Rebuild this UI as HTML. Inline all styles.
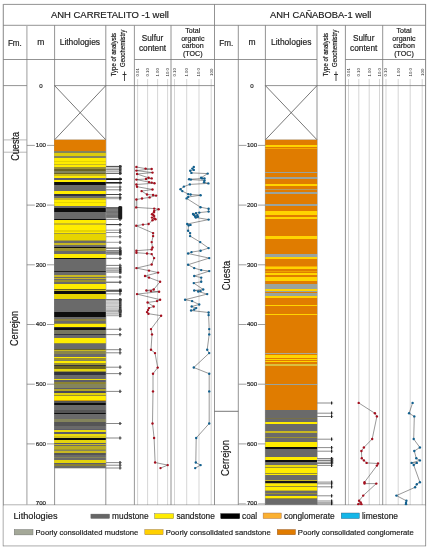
<!DOCTYPE html>
<html lang="en"><head><meta charset="utf-8"><title>Well logs</title>
<style>html,body{margin:0;padding:0;background:#fff}body{width:429px;height:550px;overflow:hidden}svg{display:block}text{font-family:"Liberation Sans",sans-serif;fill:#1a1a1a;stroke:#1a1a1a;stroke-width:0.18px}.ns{stroke:none;fill:#2a2a2a}</style>
</head><body>
<svg width="429" height="550" viewBox="0 0 429 550">
<rect width="429" height="550" fill="#fff"/>
<defs><linearGradient id="g1" x1="0" y1="0" x2="0" y2="1"><stop offset="0.00000" stop-color="#e07b00"/><stop offset="0.03440" stop-color="#e07b00"/><stop offset="0.03440" stop-color="#84845c"/><stop offset="0.04079" stop-color="#84845c"/><stop offset="0.04079" stop-color="#dccc10"/><stop offset="0.04901" stop-color="#dccc10"/><stop offset="0.04901" stop-color="#84845c"/><stop offset="0.05540" stop-color="#84845c"/><stop offset="0.05540" stop-color="#ffec00"/><stop offset="0.06514" stop-color="#ffec00"/><stop offset="0.06514" stop-color="#e6d400"/><stop offset="0.06880" stop-color="#e6d400"/><stop offset="0.06880" stop-color="#ffec00"/><stop offset="0.07458" stop-color="#ffec00"/><stop offset="0.07458" stop-color="#c8b820"/><stop offset="0.07732" stop-color="#c8b820"/><stop offset="0.07732" stop-color="#ffec00"/><stop offset="0.08432" stop-color="#ffec00"/><stop offset="0.08432" stop-color="#9a9030"/><stop offset="0.08889" stop-color="#9a9030"/><stop offset="0.08889" stop-color="#6b6420"/><stop offset="0.09376" stop-color="#6b6420"/><stop offset="0.09376" stop-color="#84845c"/><stop offset="0.10046" stop-color="#84845c"/><stop offset="0.10046" stop-color="#6b6420"/><stop offset="0.10411" stop-color="#6b6420"/><stop offset="0.10411" stop-color="#c8b820"/><stop offset="0.11020" stop-color="#c8b820"/><stop offset="0.11020" stop-color="#ffec00"/><stop offset="0.11568" stop-color="#ffec00"/><stop offset="0.11568" stop-color="#5c5c6a"/><stop offset="0.12268" stop-color="#5c5c6a"/><stop offset="0.12268" stop-color="#ffec00"/><stop offset="0.12938" stop-color="#ffec00"/><stop offset="0.12938" stop-color="#0a0a0a"/><stop offset="0.13668" stop-color="#0a0a0a"/><stop offset="0.13668" stop-color="#6a6a6a"/><stop offset="0.15464" stop-color="#6a6a6a"/><stop offset="0.15464" stop-color="#ffec00"/><stop offset="0.16530" stop-color="#ffec00"/><stop offset="0.16530" stop-color="#30303a"/><stop offset="0.17047" stop-color="#30303a"/><stop offset="0.17047" stop-color="#6a6a6a"/><stop offset="0.17626" stop-color="#6a6a6a"/><stop offset="0.17626" stop-color="#c8b820"/><stop offset="0.18204" stop-color="#c8b820"/><stop offset="0.18204" stop-color="#ffec00"/><stop offset="0.18904" stop-color="#ffec00"/><stop offset="0.18904" stop-color="#e6d400"/><stop offset="0.19178" stop-color="#e6d400"/><stop offset="0.19178" stop-color="#ffec00"/><stop offset="0.20061" stop-color="#ffec00"/><stop offset="0.20061" stop-color="#5c5c6a"/><stop offset="0.20304" stop-color="#5c5c6a"/><stop offset="0.20304" stop-color="#6a6a6a"/><stop offset="0.20913" stop-color="#6a6a6a"/><stop offset="0.20913" stop-color="#0a0a0a"/><stop offset="0.21979" stop-color="#0a0a0a"/><stop offset="0.21979" stop-color="#6a6a6a"/><stop offset="0.23988" stop-color="#6a6a6a"/><stop offset="0.23988" stop-color="#0a0a0a"/><stop offset="0.24444" stop-color="#0a0a0a"/><stop offset="0.24444" stop-color="#ffec00"/><stop offset="0.25419" stop-color="#ffec00"/><stop offset="0.25419" stop-color="#c8b820"/><stop offset="0.25784" stop-color="#c8b820"/><stop offset="0.25784" stop-color="#ffec00"/><stop offset="0.27519" stop-color="#ffec00"/><stop offset="0.27519" stop-color="#e6d400"/><stop offset="0.27915" stop-color="#e6d400"/><stop offset="0.27915" stop-color="#ffec00"/><stop offset="0.28250" stop-color="#ffec00"/><stop offset="0.28250" stop-color="#a09a40"/><stop offset="0.28828" stop-color="#a09a40"/><stop offset="0.28828" stop-color="#e6d400"/><stop offset="0.30502" stop-color="#e6d400"/><stop offset="0.30502" stop-color="#b0a428"/><stop offset="0.30898" stop-color="#b0a428"/><stop offset="0.30898" stop-color="#6a6a6a"/><stop offset="0.31355" stop-color="#6a6a6a"/><stop offset="0.31355" stop-color="#c8b820"/><stop offset="0.31933" stop-color="#c8b820"/><stop offset="0.31933" stop-color="#6a6a6a"/><stop offset="0.32511" stop-color="#6a6a6a"/><stop offset="0.32511" stop-color="#0a0a0a"/><stop offset="0.33059" stop-color="#0a0a0a"/><stop offset="0.33059" stop-color="#9a9030"/><stop offset="0.33790" stop-color="#9a9030"/><stop offset="0.33790" stop-color="#6a6a6a"/><stop offset="0.34764" stop-color="#6a6a6a"/><stop offset="0.34764" stop-color="#ffec00"/><stop offset="0.35951" stop-color="#ffec00"/><stop offset="0.35951" stop-color="#0a0a0a"/><stop offset="0.36256" stop-color="#0a0a0a"/><stop offset="0.36256" stop-color="#6a6a6a"/><stop offset="0.39909" stop-color="#6a6a6a"/><stop offset="0.39909" stop-color="#222"/><stop offset="0.40304" stop-color="#222"/><stop offset="0.40304" stop-color="#6a6a6a"/><stop offset="0.41065" stop-color="#6a6a6a"/><stop offset="0.41065" stop-color="#c8b820"/><stop offset="0.41644" stop-color="#c8b820"/><stop offset="0.41644" stop-color="#6a6a6a"/><stop offset="0.42009" stop-color="#6a6a6a"/><stop offset="0.42009" stop-color="#c8b820"/><stop offset="0.42496" stop-color="#c8b820"/><stop offset="0.42496" stop-color="#6a6a6a"/><stop offset="0.42740" stop-color="#6a6a6a"/><stop offset="0.42740" stop-color="#9a9030"/><stop offset="0.43349" stop-color="#9a9030"/><stop offset="0.43349" stop-color="#6a6a6a"/><stop offset="0.44018" stop-color="#6a6a6a"/><stop offset="0.44018" stop-color="#ffec00"/><stop offset="0.45327" stop-color="#ffec00"/><stop offset="0.45327" stop-color="#6b6420"/><stop offset="0.45662" stop-color="#6b6420"/><stop offset="0.45662" stop-color="#c8b820"/><stop offset="0.45936" stop-color="#c8b820"/><stop offset="0.45936" stop-color="#333"/><stop offset="0.46149" stop-color="#333"/><stop offset="0.46149" stop-color="#0a0a0a"/><stop offset="0.47002" stop-color="#0a0a0a"/><stop offset="0.47002" stop-color="#e6d400"/><stop offset="0.48524" stop-color="#e6d400"/><stop offset="0.48524" stop-color="#5c5c6a"/><stop offset="0.48767" stop-color="#5c5c6a"/><stop offset="0.48767" stop-color="#6a6a6a"/><stop offset="0.52359" stop-color="#6a6a6a"/><stop offset="0.52359" stop-color="#0a0a0a"/><stop offset="0.53820" stop-color="#0a0a0a"/><stop offset="0.53820" stop-color="#6a6a6a"/><stop offset="0.54642" stop-color="#6a6a6a"/><stop offset="0.54642" stop-color="#8a8040"/><stop offset="0.55190" stop-color="#8a8040"/><stop offset="0.55190" stop-color="#6a6a6a"/><stop offset="0.55860" stop-color="#6a6a6a"/><stop offset="0.55860" stop-color="#8c8648"/><stop offset="0.56134" stop-color="#8c8648"/><stop offset="0.56134" stop-color="#ffec00"/><stop offset="0.56986" stop-color="#ffec00"/><stop offset="0.56986" stop-color="#333"/><stop offset="0.57139" stop-color="#333"/><stop offset="0.57139" stop-color="#0a0a0a"/><stop offset="0.57808" stop-color="#0a0a0a"/><stop offset="0.57808" stop-color="#777760"/><stop offset="0.59026" stop-color="#777760"/><stop offset="0.59026" stop-color="#30303a"/><stop offset="0.59391" stop-color="#30303a"/><stop offset="0.59391" stop-color="#6a6a6a"/><stop offset="0.60274" stop-color="#6a6a6a"/><stop offset="0.60274" stop-color="#ffec00"/><stop offset="0.61857" stop-color="#ffec00"/><stop offset="0.61857" stop-color="#8c8848"/><stop offset="0.62253" stop-color="#8c8848"/><stop offset="0.62253" stop-color="#6a6a6a"/><stop offset="0.63653" stop-color="#6a6a6a"/><stop offset="0.63653" stop-color="#6b6420"/><stop offset="0.63927" stop-color="#6b6420"/><stop offset="0.63927" stop-color="#c8b820"/><stop offset="0.64353" stop-color="#c8b820"/><stop offset="0.64353" stop-color="#8a8648"/><stop offset="0.65205" stop-color="#8a8648"/><stop offset="0.65205" stop-color="#6a6a6a"/><stop offset="0.65997" stop-color="#6a6a6a"/><stop offset="0.65997" stop-color="#ffec00"/><stop offset="0.66484" stop-color="#ffec00"/><stop offset="0.66484" stop-color="#9a9030"/><stop offset="0.66910" stop-color="#9a9030"/><stop offset="0.66910" stop-color="#84845c"/><stop offset="0.67336" stop-color="#84845c"/><stop offset="0.67336" stop-color="#ffec00"/><stop offset="0.67976" stop-color="#ffec00"/><stop offset="0.67976" stop-color="#9a9030"/><stop offset="0.68463" stop-color="#9a9030"/><stop offset="0.68463" stop-color="#30303a"/><stop offset="0.68737" stop-color="#30303a"/><stop offset="0.68737" stop-color="#6b6420"/><stop offset="0.69893" stop-color="#6b6420"/><stop offset="0.69893" stop-color="#e4d40c"/><stop offset="0.70441" stop-color="#e4d40c"/><stop offset="0.70441" stop-color="#9a9030"/><stop offset="0.70807" stop-color="#9a9030"/><stop offset="0.70807" stop-color="#30303a"/><stop offset="0.71598" stop-color="#30303a"/><stop offset="0.71598" stop-color="#6a6a6a"/><stop offset="0.72694" stop-color="#6a6a6a"/><stop offset="0.72694" stop-color="#ecdc08"/><stop offset="0.73272" stop-color="#ecdc08"/><stop offset="0.73272" stop-color="#5c5c6a"/><stop offset="0.73760" stop-color="#5c5c6a"/><stop offset="0.73760" stop-color="#8c8430"/><stop offset="0.74460" stop-color="#8c8430"/><stop offset="0.74460" stop-color="#84845c"/><stop offset="0.75464" stop-color="#84845c"/><stop offset="0.75464" stop-color="#5c5c6a"/><stop offset="0.75738" stop-color="#5c5c6a"/><stop offset="0.75738" stop-color="#b0a428"/><stop offset="0.76377" stop-color="#b0a428"/><stop offset="0.76377" stop-color="#4a4a5c"/><stop offset="0.77017" stop-color="#4a4a5c"/><stop offset="0.77017" stop-color="#e0d010"/><stop offset="0.77717" stop-color="#e0d010"/><stop offset="0.77717" stop-color="#9a9030"/><stop offset="0.78143" stop-color="#9a9030"/><stop offset="0.78143" stop-color="#ffec00"/><stop offset="0.79148" stop-color="#ffec00"/><stop offset="0.79148" stop-color="#d0a000"/><stop offset="0.79452" stop-color="#d0a000"/><stop offset="0.79452" stop-color="#555555"/><stop offset="0.80030" stop-color="#555555"/><stop offset="0.80030" stop-color="#0a0a0a"/><stop offset="0.80609" stop-color="#0a0a0a"/><stop offset="0.80609" stop-color="#6a6a6a"/><stop offset="0.82344" stop-color="#6a6a6a"/><stop offset="0.82344" stop-color="#555555"/><stop offset="0.83166" stop-color="#555555"/><stop offset="0.83166" stop-color="#0a0a0a"/><stop offset="0.83562" stop-color="#0a0a0a"/><stop offset="0.83562" stop-color="#6a6a6a"/><stop offset="0.85023" stop-color="#6a6a6a"/><stop offset="0.85023" stop-color="#84845c"/><stop offset="0.85967" stop-color="#84845c"/><stop offset="0.85967" stop-color="#555555"/><stop offset="0.87123" stop-color="#555555"/><stop offset="0.87123" stop-color="#6a6a6a"/><stop offset="0.88067" stop-color="#6a6a6a"/><stop offset="0.88067" stop-color="#5c5c6a"/><stop offset="0.88371" stop-color="#5c5c6a"/><stop offset="0.88371" stop-color="#ecdc08"/><stop offset="0.89041" stop-color="#ecdc08"/><stop offset="0.89041" stop-color="#5c5c6a"/><stop offset="0.89498" stop-color="#5c5c6a"/><stop offset="0.89498" stop-color="#ecdc08"/><stop offset="0.90167" stop-color="#ecdc08"/><stop offset="0.90167" stop-color="#d4c41c"/><stop offset="0.90868" stop-color="#d4c41c"/><stop offset="0.90868" stop-color="#0a0a0a"/><stop offset="0.91355" stop-color="#0a0a0a"/><stop offset="0.91355" stop-color="#e4d40c"/><stop offset="0.92207" stop-color="#e4d40c"/><stop offset="0.92207" stop-color="#5c5c6a"/><stop offset="0.92481" stop-color="#5c5c6a"/><stop offset="0.92481" stop-color="#c8b820"/><stop offset="0.92877" stop-color="#c8b820"/><stop offset="0.92877" stop-color="#6a6a6a"/><stop offset="0.93333" stop-color="#6a6a6a"/><stop offset="0.93333" stop-color="#b8ac28"/><stop offset="0.94003" stop-color="#b8ac28"/><stop offset="0.94003" stop-color="#a09830"/><stop offset="0.94429" stop-color="#a09830"/><stop offset="0.94429" stop-color="#84845c"/><stop offset="0.94703" stop-color="#84845c"/><stop offset="0.94703" stop-color="#c8b820"/><stop offset="0.95403" stop-color="#c8b820"/><stop offset="0.95403" stop-color="#555555"/><stop offset="0.95830" stop-color="#555555"/><stop offset="0.95830" stop-color="#6a6a6a"/><stop offset="0.96560" stop-color="#6a6a6a"/><stop offset="0.96560" stop-color="#84845c"/><stop offset="0.96986" stop-color="#84845c"/><stop offset="0.96986" stop-color="#6a6a6a"/><stop offset="0.97595" stop-color="#6a6a6a"/><stop offset="0.97595" stop-color="#e4d40c"/><stop offset="0.98387" stop-color="#e4d40c"/><stop offset="0.98387" stop-color="#5c5c6a"/><stop offset="0.98691" stop-color="#5c5c6a"/><stop offset="0.98691" stop-color="#8a8030"/><stop offset="0.99178" stop-color="#8a8030"/><stop offset="0.99178" stop-color="#6a6a6a"/><stop offset="1.00000" stop-color="#6a6a6a"/></linearGradient><linearGradient id="g2" x1="0" y1="0" x2="0" y2="1"><stop offset="0.00000" stop-color="#e07b00"/><stop offset="0.01452" stop-color="#e07b00"/><stop offset="0.01452" stop-color="#ffd400"/><stop offset="0.01918" stop-color="#ffd400"/><stop offset="0.01918" stop-color="#e07b00"/><stop offset="0.02219" stop-color="#e07b00"/><stop offset="0.02219" stop-color="#f5a800"/><stop offset="0.02493" stop-color="#f5a800"/><stop offset="0.02493" stop-color="#e07b00"/><stop offset="0.08740" stop-color="#e07b00"/><stop offset="0.08740" stop-color="#9aa39c"/><stop offset="0.09123" stop-color="#9aa39c"/><stop offset="0.09123" stop-color="#e07b00"/><stop offset="0.10219" stop-color="#e07b00"/><stop offset="0.10219" stop-color="#9aa39c"/><stop offset="0.10658" stop-color="#9aa39c"/><stop offset="0.10658" stop-color="#e07b00"/><stop offset="0.12055" stop-color="#e07b00"/><stop offset="0.12055" stop-color="#ffd400"/><stop offset="0.12521" stop-color="#ffd400"/><stop offset="0.12521" stop-color="#f5a800"/><stop offset="0.12712" stop-color="#f5a800"/><stop offset="0.12712" stop-color="#e07b00"/><stop offset="0.13397" stop-color="#e07b00"/><stop offset="0.13397" stop-color="#b89a60"/><stop offset="0.13726" stop-color="#b89a60"/><stop offset="0.13726" stop-color="#e07b00"/><stop offset="0.14247" stop-color="#e07b00"/><stop offset="0.14247" stop-color="#9aa39c"/><stop offset="0.14740" stop-color="#9aa39c"/><stop offset="0.14740" stop-color="#e07b00"/><stop offset="0.17479" stop-color="#e07b00"/><stop offset="0.17479" stop-color="#9aa39c"/><stop offset="0.18110" stop-color="#9aa39c"/><stop offset="0.18110" stop-color="#e07b00"/><stop offset="0.19562" stop-color="#e07b00"/><stop offset="0.19562" stop-color="#ffd400"/><stop offset="0.20521" stop-color="#ffd400"/><stop offset="0.20521" stop-color="#e07b00"/><stop offset="0.21096" stop-color="#e07b00"/><stop offset="0.21096" stop-color="#ffd400"/><stop offset="0.21562" stop-color="#ffd400"/><stop offset="0.21562" stop-color="#e07b00"/><stop offset="0.26274" stop-color="#e07b00"/><stop offset="0.26274" stop-color="#ffd400"/><stop offset="0.27151" stop-color="#ffd400"/><stop offset="0.27151" stop-color="#e07b00"/><stop offset="0.31233" stop-color="#e07b00"/><stop offset="0.31233" stop-color="#9aa39c"/><stop offset="0.32000" stop-color="#9aa39c"/><stop offset="0.32000" stop-color="#ffd400"/><stop offset="0.32575" stop-color="#ffd400"/><stop offset="0.32575" stop-color="#e07b00"/><stop offset="0.34493" stop-color="#e07b00"/><stop offset="0.34493" stop-color="#f5a800"/><stop offset="0.34877" stop-color="#f5a800"/><stop offset="0.34877" stop-color="#e07b00"/><stop offset="0.34986" stop-color="#e07b00"/><stop offset="0.34986" stop-color="#ffd400"/><stop offset="0.35479" stop-color="#ffd400"/><stop offset="0.35479" stop-color="#e07b00"/><stop offset="0.35973" stop-color="#e07b00"/><stop offset="0.35973" stop-color="#eea000"/><stop offset="0.36274" stop-color="#eea000"/><stop offset="0.36274" stop-color="#e07b00"/><stop offset="0.36384" stop-color="#e07b00"/><stop offset="0.36384" stop-color="#ffd400"/><stop offset="0.37014" stop-color="#ffd400"/><stop offset="0.37014" stop-color="#e07b00"/><stop offset="0.37562" stop-color="#e07b00"/><stop offset="0.37562" stop-color="#ffd400"/><stop offset="0.38740" stop-color="#ffd400"/><stop offset="0.38740" stop-color="#e07b00"/><stop offset="0.39479" stop-color="#e07b00"/><stop offset="0.39479" stop-color="#9aa39c"/><stop offset="0.40959" stop-color="#9aa39c"/><stop offset="0.40959" stop-color="#ffd400"/><stop offset="0.41425" stop-color="#ffd400"/><stop offset="0.41425" stop-color="#9aa39c"/><stop offset="0.41726" stop-color="#9aa39c"/><stop offset="0.41726" stop-color="#e07b00"/><stop offset="0.41918" stop-color="#e07b00"/><stop offset="0.41918" stop-color="#9aa39c"/><stop offset="0.42767" stop-color="#9aa39c"/><stop offset="0.42767" stop-color="#ffd400"/><stop offset="0.43342" stop-color="#ffd400"/><stop offset="0.43342" stop-color="#e07b00"/><stop offset="0.45178" stop-color="#e07b00"/><stop offset="0.45178" stop-color="#ffd400"/><stop offset="0.45534" stop-color="#ffd400"/><stop offset="0.45534" stop-color="#e07b00"/><stop offset="0.47671" stop-color="#e07b00"/><stop offset="0.47671" stop-color="#ffd400"/><stop offset="0.48055" stop-color="#ffd400"/><stop offset="0.48055" stop-color="#e07b00"/><stop offset="0.58411" stop-color="#e07b00"/><stop offset="0.58411" stop-color="#a8a898"/><stop offset="0.58740" stop-color="#a8a898"/><stop offset="0.58740" stop-color="#e07b00"/><stop offset="0.59068" stop-color="#e07b00"/><stop offset="0.59068" stop-color="#ffd400"/><stop offset="0.59753" stop-color="#ffd400"/><stop offset="0.59753" stop-color="#e07b00"/><stop offset="0.60027" stop-color="#e07b00"/><stop offset="0.60027" stop-color="#ffd400"/><stop offset="0.60411" stop-color="#ffd400"/><stop offset="0.60411" stop-color="#e07b00"/><stop offset="0.60685" stop-color="#e07b00"/><stop offset="0.60685" stop-color="#ffd400"/><stop offset="0.60986" stop-color="#ffd400"/><stop offset="0.60986" stop-color="#e07b00"/><stop offset="0.61479" stop-color="#e07b00"/><stop offset="0.61479" stop-color="#d8c040"/><stop offset="0.61890" stop-color="#d8c040"/><stop offset="0.61890" stop-color="#e07b00"/><stop offset="0.66904" stop-color="#e07b00"/><stop offset="0.66904" stop-color="#9aa39c"/><stop offset="0.67315" stop-color="#9aa39c"/><stop offset="0.67315" stop-color="#e07b00"/><stop offset="0.74027" stop-color="#e07b00"/><stop offset="0.74027" stop-color="#6a6a6a"/><stop offset="0.76219" stop-color="#6a6a6a"/><stop offset="0.76219" stop-color="#77704a"/><stop offset="0.76411" stop-color="#77704a"/><stop offset="0.76411" stop-color="#6a6a6a"/><stop offset="0.77342" stop-color="#6a6a6a"/><stop offset="0.77342" stop-color="#ffec00"/><stop offset="0.77890" stop-color="#ffec00"/><stop offset="0.77890" stop-color="#6a6a6a"/><stop offset="0.79781" stop-color="#6a6a6a"/><stop offset="0.79781" stop-color="#c8b820"/><stop offset="0.80301" stop-color="#c8b820"/><stop offset="0.80301" stop-color="#6a6a6a"/><stop offset="0.81425" stop-color="#6a6a6a"/><stop offset="0.81425" stop-color="#9a9030"/><stop offset="0.81699" stop-color="#9a9030"/><stop offset="0.81699" stop-color="#6a6a6a"/><stop offset="0.82795" stop-color="#6a6a6a"/><stop offset="0.82795" stop-color="#ffec00"/><stop offset="0.84137" stop-color="#ffec00"/><stop offset="0.84137" stop-color="#0a0a0a"/><stop offset="0.84767" stop-color="#0a0a0a"/><stop offset="0.84767" stop-color="#6a6a6a"/><stop offset="0.86932" stop-color="#6a6a6a"/><stop offset="0.86932" stop-color="#ffec00"/><stop offset="0.87699" stop-color="#ffec00"/><stop offset="0.87699" stop-color="#0a0a0a"/><stop offset="0.88219" stop-color="#0a0a0a"/><stop offset="0.88219" stop-color="#6a6a6a"/><stop offset="0.89178" stop-color="#6a6a6a"/><stop offset="0.89178" stop-color="#ecdc08"/><stop offset="0.89644" stop-color="#ecdc08"/><stop offset="0.89644" stop-color="#9a9030"/><stop offset="0.89863" stop-color="#9a9030"/><stop offset="0.89863" stop-color="#ffec00"/><stop offset="0.91260" stop-color="#ffec00"/><stop offset="0.91260" stop-color="#9a9030"/><stop offset="0.91562" stop-color="#9a9030"/><stop offset="0.91562" stop-color="#ffec00"/><stop offset="0.91945" stop-color="#ffec00"/><stop offset="0.91945" stop-color="#6a6a6a"/><stop offset="0.93096" stop-color="#6a6a6a"/><stop offset="0.93096" stop-color="#c8b820"/><stop offset="0.93425" stop-color="#c8b820"/><stop offset="0.93425" stop-color="#15151c"/><stop offset="0.94027" stop-color="#15151c"/><stop offset="0.94027" stop-color="#c8b820"/><stop offset="0.94301" stop-color="#c8b820"/><stop offset="0.94301" stop-color="#ffec00"/><stop offset="0.94932" stop-color="#ffec00"/><stop offset="0.94932" stop-color="#9a9030"/><stop offset="0.95123" stop-color="#9a9030"/><stop offset="0.95123" stop-color="#ffec00"/><stop offset="0.95945" stop-color="#ffec00"/><stop offset="0.95945" stop-color="#c8b820"/><stop offset="0.96329" stop-color="#c8b820"/><stop offset="0.96329" stop-color="#6a6a6a"/><stop offset="0.96712" stop-color="#6a6a6a"/><stop offset="0.96712" stop-color="#9a9030"/><stop offset="0.96932" stop-color="#9a9030"/><stop offset="0.96932" stop-color="#6a6a6a"/><stop offset="0.97507" stop-color="#6a6a6a"/><stop offset="0.97507" stop-color="#ffec00"/><stop offset="0.98082" stop-color="#ffec00"/><stop offset="0.98082" stop-color="#9a9030"/><stop offset="0.98384" stop-color="#9a9030"/><stop offset="0.98384" stop-color="#6a6a6a"/><stop offset="1.00000" stop-color="#6a6a6a"/></linearGradient><filter id="vb" x="0" y="-0.01" width="1" height="1.02"><feGaussianBlur stdDeviation="0 0.45"/></filter></defs>
<line x1="137.6" y1="79.0" x2="137.6" y2="505.0" stroke="#c4c4c4" stroke-width="0.7"/>
<line x1="147.6" y1="79.0" x2="147.6" y2="505.0" stroke="#c4c4c4" stroke-width="0.7"/>
<line x1="157.6" y1="79.0" x2="157.6" y2="505.0" stroke="#c4c4c4" stroke-width="0.7"/>
<line x1="167.6" y1="79.0" x2="167.6" y2="505.0" stroke="#c4c4c4" stroke-width="0.7"/>
<line x1="174.5" y1="79.0" x2="174.5" y2="505.0" stroke="#c4c4c4" stroke-width="0.7"/>
<line x1="186.7" y1="79.0" x2="186.7" y2="505.0" stroke="#c4c4c4" stroke-width="0.7"/>
<line x1="199.0" y1="79.0" x2="199.0" y2="505.0" stroke="#c4c4c4" stroke-width="0.7"/>
<line x1="211.2" y1="79.0" x2="211.2" y2="505.0" stroke="#c4c4c4" stroke-width="0.7"/>
<line x1="348.5" y1="79.0" x2="348.5" y2="505.0" stroke="#c4c4c4" stroke-width="0.7"/>
<line x1="358.8" y1="79.0" x2="358.8" y2="505.0" stroke="#c4c4c4" stroke-width="0.7"/>
<line x1="369.2" y1="79.0" x2="369.2" y2="505.0" stroke="#c4c4c4" stroke-width="0.7"/>
<line x1="379.5" y1="79.0" x2="379.5" y2="505.0" stroke="#c4c4c4" stroke-width="0.7"/>
<line x1="386.0" y1="79.0" x2="386.0" y2="505.0" stroke="#c4c4c4" stroke-width="0.7"/>
<line x1="398.2" y1="79.0" x2="398.2" y2="505.0" stroke="#c4c4c4" stroke-width="0.7"/>
<line x1="410.2" y1="79.0" x2="410.2" y2="505.0" stroke="#c4c4c4" stroke-width="0.7"/>
<line x1="422.2" y1="79.0" x2="422.2" y2="505.0" stroke="#c4c4c4" stroke-width="0.7"/>
<line x1="3.3" y1="4.4" x2="425.6" y2="4.4" stroke="#777" stroke-width="0.8"/>
<line x1="3.3" y1="545.8" x2="425.6" y2="545.8" stroke="#8a8a8a" stroke-width="1.0"/>
<line x1="3.3" y1="4.0" x2="3.3" y2="546.2" stroke="#929292" stroke-width="1.1"/>
<line x1="425.6" y1="4.0" x2="425.6" y2="546.2" stroke="#858585" stroke-width="1.0"/>
<line x1="3.3" y1="25.3" x2="425.6" y2="25.3" stroke="#777" stroke-width="0.8"/>
<line x1="3.3" y1="505.0" x2="425.6" y2="505.0" stroke="#777" stroke-width="0.8"/>
<line x1="214.5" y1="4.4" x2="214.5" y2="505.0" stroke="#777" stroke-width="0.8"/>
<line x1="54.6" y1="25.3" x2="54.6" y2="505.0" stroke="#777" stroke-width="0.8"/>
<line x1="105.8" y1="25.3" x2="105.8" y2="505.0" stroke="#777" stroke-width="0.8"/>
<line x1="171.0" y1="25.3" x2="171.0" y2="505.0" stroke="#777" stroke-width="0.8"/>
<line x1="134.4" y1="25.3" x2="134.4" y2="505.0" stroke="#8c8c8c" stroke-width="0.9"/>
<line x1="265.4" y1="25.3" x2="265.4" y2="505.0" stroke="#777" stroke-width="0.8"/>
<line x1="317.0" y1="25.3" x2="317.0" y2="505.0" stroke="#777" stroke-width="0.8"/>
<line x1="345.4" y1="25.3" x2="345.4" y2="505.0" stroke="#777" stroke-width="0.8"/>
<line x1="382.7" y1="25.3" x2="382.7" y2="505.0" stroke="#777" stroke-width="0.8"/>
<line x1="26.9" y1="25.3" x2="26.9" y2="505.0" stroke="#adadad" stroke-width="1.2"/>
<line x1="238.3" y1="25.3" x2="238.3" y2="505.0" stroke="#777" stroke-width="0.8"/>
<line x1="3.3" y1="59.5" x2="105.8" y2="59.5" stroke="#777" stroke-width="0.8"/>
<line x1="134.4" y1="59.5" x2="317.0" y2="59.5" stroke="#777" stroke-width="0.8"/>
<line x1="345.4" y1="59.5" x2="425.6" y2="59.5" stroke="#777" stroke-width="0.8"/>
<line x1="3.3" y1="85.6" x2="26.9" y2="85.6" stroke="#777" stroke-width="0.8"/>
<line x1="54.6" y1="85.6" x2="214.5" y2="85.6" stroke="#777" stroke-width="0.8"/>
<line x1="265.4" y1="85.6" x2="425.6" y2="85.6" stroke="#777" stroke-width="0.8"/>
<line x1="3.3" y1="139.9" x2="26.9" y2="139.9" stroke="#999" stroke-width="0.7"/>
<line x1="3.3" y1="152.2" x2="26.9" y2="152.2" stroke="#999" stroke-width="0.7"/>
<line x1="214.5" y1="411.3" x2="238.3" y2="411.3" stroke="#555" stroke-width="0.8"/>
<line x1="54.6" y1="85.6" x2="105.8" y2="139.8" stroke="#555" stroke-width="0.8"/>
<line x1="105.8" y1="85.6" x2="54.6" y2="139.8" stroke="#555" stroke-width="0.8"/>
<line x1="54.6" y1="139.8" x2="105.8" y2="139.8" stroke="#888" stroke-width="0.5"/>
<line x1="265.4" y1="85.6" x2="317.0" y2="139.8" stroke="#555" stroke-width="0.8"/>
<line x1="317.0" y1="85.6" x2="265.4" y2="139.8" stroke="#555" stroke-width="0.8"/>
<line x1="265.4" y1="139.8" x2="317.0" y2="139.8" stroke="#888" stroke-width="0.5"/>
<rect x="54.2" y="139.8" width="51.6" height="328.5" fill="url(#g1)" filter="url(#vb)"/>
<rect x="265.3" y="139.8" width="51.8" height="365.0" fill="url(#g2)" filter="url(#vb)"/>
<text x="40.9" y="87.6" font-size="6.1" text-anchor="middle">0</text>
<line x1="26.9" y1="145.4" x2="34.8" y2="145.4" stroke="#777" stroke-width="0.7"/>
<line x1="47.0" y1="145.4" x2="54.6" y2="145.4" stroke="#777" stroke-width="0.7"/>
<text x="40.9" y="147.3" font-size="6.1" text-anchor="middle">100</text>
<line x1="26.9" y1="205.1" x2="34.8" y2="205.1" stroke="#777" stroke-width="0.7"/>
<line x1="47.0" y1="205.1" x2="54.6" y2="205.1" stroke="#777" stroke-width="0.7"/>
<text x="40.9" y="207.0" font-size="6.1" text-anchor="middle">200</text>
<line x1="26.9" y1="264.8" x2="34.8" y2="264.8" stroke="#777" stroke-width="0.7"/>
<line x1="47.0" y1="264.8" x2="54.6" y2="264.8" stroke="#777" stroke-width="0.7"/>
<text x="40.9" y="266.7" font-size="6.1" text-anchor="middle">300</text>
<line x1="26.9" y1="324.5" x2="34.8" y2="324.5" stroke="#777" stroke-width="0.7"/>
<line x1="47.0" y1="324.5" x2="54.6" y2="324.5" stroke="#777" stroke-width="0.7"/>
<text x="40.9" y="326.4" font-size="6.1" text-anchor="middle">400</text>
<line x1="26.9" y1="384.2" x2="34.8" y2="384.2" stroke="#777" stroke-width="0.7"/>
<line x1="47.0" y1="384.2" x2="54.6" y2="384.2" stroke="#777" stroke-width="0.7"/>
<text x="40.9" y="386.1" font-size="6.1" text-anchor="middle">500</text>
<line x1="26.9" y1="443.9" x2="34.8" y2="443.9" stroke="#777" stroke-width="0.7"/>
<line x1="47.0" y1="443.9" x2="54.6" y2="443.9" stroke="#777" stroke-width="0.7"/>
<text x="40.9" y="445.8" font-size="6.1" text-anchor="middle">600</text>
<text x="40.9" y="504.9" font-size="6.1" text-anchor="middle">700</text>
<text x="252.0" y="87.6" font-size="6.1" text-anchor="middle">0</text>
<line x1="238.6" y1="145.4" x2="246.5" y2="145.4" stroke="#777" stroke-width="0.7"/>
<line x1="257.8" y1="145.4" x2="265.4" y2="145.4" stroke="#777" stroke-width="0.7"/>
<text x="252.0" y="147.3" font-size="6.1" text-anchor="middle">100</text>
<line x1="238.6" y1="205.1" x2="246.5" y2="205.1" stroke="#777" stroke-width="0.7"/>
<line x1="257.8" y1="205.1" x2="265.4" y2="205.1" stroke="#777" stroke-width="0.7"/>
<text x="252.0" y="207.0" font-size="6.1" text-anchor="middle">200</text>
<line x1="238.6" y1="264.8" x2="246.5" y2="264.8" stroke="#777" stroke-width="0.7"/>
<line x1="257.8" y1="264.8" x2="265.4" y2="264.8" stroke="#777" stroke-width="0.7"/>
<text x="252.0" y="266.7" font-size="6.1" text-anchor="middle">300</text>
<line x1="238.6" y1="324.5" x2="246.5" y2="324.5" stroke="#777" stroke-width="0.7"/>
<line x1="257.8" y1="324.5" x2="265.4" y2="324.5" stroke="#777" stroke-width="0.7"/>
<text x="252.0" y="326.4" font-size="6.1" text-anchor="middle">400</text>
<line x1="238.6" y1="384.2" x2="246.5" y2="384.2" stroke="#777" stroke-width="0.7"/>
<line x1="257.8" y1="384.2" x2="265.4" y2="384.2" stroke="#777" stroke-width="0.7"/>
<text x="252.0" y="386.1" font-size="6.1" text-anchor="middle">500</text>
<line x1="238.6" y1="443.9" x2="246.5" y2="443.9" stroke="#777" stroke-width="0.7"/>
<line x1="257.8" y1="443.9" x2="265.4" y2="443.9" stroke="#777" stroke-width="0.7"/>
<text x="252.0" y="445.8" font-size="6.1" text-anchor="middle">600</text>
<line x1="238.6" y1="503.7" x2="245.8" y2="503.7" stroke="#888" stroke-width="0.6"/>
<line x1="258.2" y1="503.7" x2="265.4" y2="503.7" stroke="#888" stroke-width="0.6"/>
<text x="252.0" y="504.9" font-size="6.1" text-anchor="middle">700</text>
<text x="109.9" y="18.3" font-size="9.6" text-anchor="middle" textLength="118.0" lengthAdjust="spacingAndGlyphs">ANH CARRETALITO -1 well</text>
<text x="320.7" y="18.3" font-size="9.6" text-anchor="middle" textLength="101.2" lengthAdjust="spacingAndGlyphs">ANH CAÑABOBA-1 well</text>
<text x="14.9" y="45.7" font-size="8.8" text-anchor="middle" textLength="14.0" lengthAdjust="spacingAndGlyphs">Fm.</text>
<text x="40.8" y="44.7" font-size="8.5" text-anchor="middle">m</text>
<text x="79.9" y="44.8" font-size="9.0" text-anchor="middle" textLength="40.4" lengthAdjust="spacingAndGlyphs">Lithologies</text>
<text x="226.2" y="45.7" font-size="8.8" text-anchor="middle" textLength="14.0" lengthAdjust="spacingAndGlyphs">Fm.</text>
<text x="252.1" y="44.7" font-size="8.5" text-anchor="middle">m</text>
<text x="291.2" y="44.8" font-size="9.0" text-anchor="middle" textLength="40.4" lengthAdjust="spacingAndGlyphs">Lithologies</text>
<text x="152.5" y="40.9" font-size="8.8" text-anchor="middle" textLength="21.4" lengthAdjust="spacingAndGlyphs">Sulfur</text>
<text x="152.5" y="50.7" font-size="8.8" text-anchor="middle" textLength="27.2" lengthAdjust="spacingAndGlyphs">content</text>
<text x="363.7" y="40.9" font-size="8.8" text-anchor="middle" textLength="21.4" lengthAdjust="spacingAndGlyphs">Sulfur</text>
<text x="363.7" y="50.7" font-size="8.8" text-anchor="middle" textLength="27.2" lengthAdjust="spacingAndGlyphs">content</text>
<text x="192.8" y="32.8" font-size="7.1" text-anchor="middle">Total</text>
<text x="192.8" y="40.5" font-size="7.1" text-anchor="middle">organic</text>
<text x="192.8" y="48.2" font-size="7.1" text-anchor="middle">carbon</text>
<text x="192.8" y="55.5" font-size="7.1" text-anchor="middle">(TOC)</text>
<text x="404.0" y="32.8" font-size="7.1" text-anchor="middle">Total</text>
<text x="404.0" y="40.5" font-size="7.1" text-anchor="middle">organic</text>
<text x="404.0" y="48.2" font-size="7.1" text-anchor="middle">carbon</text>
<text x="404.0" y="55.5" font-size="7.1" text-anchor="middle">(TOC)</text>
<text transform="translate(116.0 54.6) rotate(-90)" font-size="6.6" text-anchor="middle" textLength="43.5" lengthAdjust="spacingAndGlyphs">Type of analysis</text>
<text transform="translate(125.3 48.4) rotate(-90)" font-size="6.6" text-anchor="middle" textLength="37.4" lengthAdjust="spacingAndGlyphs">Geochemistry</text>
<line x1="124.5" y1="71.5" x2="124.5" y2="81.0" stroke="#222" stroke-width="0.8"/>
<line x1="122.5" y1="74.5" x2="126.5" y2="74.5" stroke="#222" stroke-width="0.9"/>
<text transform="translate(327.5 54.6) rotate(-90)" font-size="6.6" text-anchor="middle" textLength="43.5" lengthAdjust="spacingAndGlyphs">Type of analysis</text>
<text transform="translate(336.8 48.4) rotate(-90)" font-size="6.6" text-anchor="middle" textLength="37.4" lengthAdjust="spacingAndGlyphs">Geochemistry</text>
<line x1="336.0" y1="71.5" x2="336.0" y2="81.0" stroke="#222" stroke-width="0.8"/>
<line x1="334.0" y1="74.5" x2="338.0" y2="74.5" stroke="#222" stroke-width="0.9"/>
<text transform="translate(139.0 72.3) rotate(-90)" font-size="4.3" text-anchor="middle" class="ns">0.01</text>
<text transform="translate(149.0 72.3) rotate(-90)" font-size="4.3" text-anchor="middle" class="ns">0.10</text>
<text transform="translate(159.0 72.3) rotate(-90)" font-size="4.3" text-anchor="middle" class="ns">1.00</text>
<text transform="translate(169.0 72.3) rotate(-90)" font-size="4.3" text-anchor="middle" class="ns">10.0</text>
<text transform="translate(175.9 72.3) rotate(-90)" font-size="4.3" text-anchor="middle" class="ns">0.10</text>
<text transform="translate(188.1 72.3) rotate(-90)" font-size="4.3" text-anchor="middle" class="ns">1.00</text>
<text transform="translate(200.4 72.3) rotate(-90)" font-size="4.3" text-anchor="middle" class="ns">10.0</text>
<text transform="translate(212.6 72.3) rotate(-90)" font-size="4.3" text-anchor="middle" class="ns">100</text>
<text transform="translate(349.9 72.3) rotate(-90)" font-size="4.3" text-anchor="middle" class="ns">0.01</text>
<text transform="translate(360.2 72.3) rotate(-90)" font-size="4.3" text-anchor="middle" class="ns">0.10</text>
<text transform="translate(370.6 72.3) rotate(-90)" font-size="4.3" text-anchor="middle" class="ns">1.00</text>
<text transform="translate(380.9 72.3) rotate(-90)" font-size="4.3" text-anchor="middle" class="ns">10.0</text>
<text transform="translate(387.4 72.3) rotate(-90)" font-size="4.3" text-anchor="middle" class="ns">0.10</text>
<text transform="translate(399.6 72.3) rotate(-90)" font-size="4.3" text-anchor="middle" class="ns">1.00</text>
<text transform="translate(411.6 72.3) rotate(-90)" font-size="4.3" text-anchor="middle" class="ns">10.0</text>
<text transform="translate(423.6 72.3) rotate(-90)" font-size="4.3" text-anchor="middle" class="ns">100</text>
<text transform="translate(18.7 146.4) rotate(-90)" font-size="10.3" text-anchor="middle" textLength="28.9" lengthAdjust="spacingAndGlyphs">Cuesta</text>
<text transform="translate(17.7 328.5) rotate(-90)" font-size="10.3" text-anchor="middle" textLength="35.0" lengthAdjust="spacingAndGlyphs">Cerrejon</text>
<text transform="translate(230.0 275.5) rotate(-90)" font-size="10.3" text-anchor="middle" textLength="29.4" lengthAdjust="spacingAndGlyphs">Cuesta</text>
<text transform="translate(229.1 458.1) rotate(-90)" font-size="10.3" text-anchor="middle" textLength="35.9" lengthAdjust="spacingAndGlyphs">Cerrejon</text>
<rect x="106.1" y="166.0" width="15.8" height="7.6" fill="#d8d8d8"/>
<rect x="119.0" y="165.2" width="2.6" height="9.2" fill="#777"/>
<rect x="106.1" y="207.0" width="15.8" height="11.3" fill="#7c7c7c"/>
<rect x="119.0" y="206.2" width="2.6" height="12.9" fill="#1a1a1a"/>
<rect x="106.1" y="250.2" width="15.8" height="4.4" fill="#a8a8a8"/>
<rect x="119.0" y="249.4" width="2.6" height="6.0" fill="#444"/>
<rect x="106.1" y="267.2" width="15.8" height="5.6" fill="#c4c4c4"/>
<rect x="119.0" y="266.4" width="2.6" height="7.2" fill="#555"/>
<rect x="106.1" y="289.4" width="15.8" height="2.0" fill="#aaa"/>
<rect x="119.0" y="288.6" width="2.6" height="3.6" fill="#444"/>
<rect x="106.1" y="299.3" width="15.8" height="17.0" fill="#cfcfcf"/>
<rect x="119.0" y="298.5" width="2.6" height="18.6" fill="#606060"/>
<line x1="106.1" y1="166.50" x2="121.9" y2="166.50" stroke="#555" stroke-width="1.2"/>
<line x1="120.0" y1="164.90" x2="120.0" y2="168.10" stroke="#1c1c1c" stroke-width="1.1"/>
<line x1="106.1" y1="169.30" x2="121.9" y2="169.30" stroke="#888" stroke-width="1.2"/>
<line x1="120.0" y1="167.70" x2="120.0" y2="170.90" stroke="#1c1c1c" stroke-width="1.1"/>
<line x1="106.1" y1="171.20" x2="121.9" y2="171.20" stroke="#aaa" stroke-width="1.0"/>
<line x1="120.0" y1="169.60" x2="120.0" y2="172.80" stroke="#1c1c1c" stroke-width="1.1"/>
<line x1="106.1" y1="173.50" x2="121.9" y2="173.50" stroke="#333" stroke-width="0.7"/>
<line x1="120.0" y1="171.90" x2="120.0" y2="175.10" stroke="#1c1c1c" stroke-width="1.1"/>
<line x1="106.1" y1="179.10" x2="121.9" y2="179.10" stroke="#111" stroke-width="1.8"/>
<line x1="120.0" y1="177.50" x2="120.0" y2="180.70" stroke="#1c1c1c" stroke-width="1.1"/>
<line x1="106.1" y1="182.80" x2="121.9" y2="182.80" stroke="#151515" stroke-width="1.5"/>
<line x1="120.0" y1="181.20" x2="120.0" y2="184.40" stroke="#1c1c1c" stroke-width="1.1"/>
<line x1="106.1" y1="187.00" x2="121.9" y2="187.00" stroke="#777" stroke-width="0.9"/>
<line x1="120.0" y1="185.40" x2="120.0" y2="188.60" stroke="#1c1c1c" stroke-width="1.1"/>
<line x1="106.1" y1="189.80" x2="121.9" y2="189.80" stroke="#777" stroke-width="0.9"/>
<line x1="120.0" y1="188.20" x2="120.0" y2="191.40" stroke="#1c1c1c" stroke-width="1.1"/>
<line x1="106.1" y1="194.50" x2="121.9" y2="194.50" stroke="#333" stroke-width="0.9"/>
<line x1="120.0" y1="192.90" x2="120.0" y2="196.10" stroke="#1c1c1c" stroke-width="1.1"/>
<line x1="106.1" y1="197.30" x2="121.9" y2="197.30" stroke="#777" stroke-width="0.9"/>
<line x1="120.0" y1="195.70" x2="120.0" y2="198.90" stroke="#1c1c1c" stroke-width="1.1"/>
<line x1="106.1" y1="198.70" x2="121.9" y2="198.70" stroke="#888" stroke-width="0.8"/>
<line x1="120.0" y1="197.10" x2="120.0" y2="200.30" stroke="#1c1c1c" stroke-width="1.1"/>
<line x1="106.1" y1="208.00" x2="121.9" y2="208.00" stroke="#555" stroke-width="0.8"/>
<line x1="120.0" y1="206.40" x2="120.0" y2="209.60" stroke="#1c1c1c" stroke-width="1.1"/>
<line x1="106.1" y1="212.00" x2="121.9" y2="212.00" stroke="#666" stroke-width="0.8"/>
<line x1="120.0" y1="210.40" x2="120.0" y2="213.60" stroke="#1c1c1c" stroke-width="1.1"/>
<line x1="106.1" y1="216.00" x2="121.9" y2="216.00" stroke="#666" stroke-width="0.8"/>
<line x1="120.0" y1="214.40" x2="120.0" y2="217.60" stroke="#1c1c1c" stroke-width="1.1"/>
<line x1="106.1" y1="219.50" x2="121.9" y2="219.50" stroke="#777" stroke-width="0.9"/>
<line x1="120.0" y1="217.90" x2="120.0" y2="221.10" stroke="#1c1c1c" stroke-width="1.1"/>
<line x1="106.1" y1="224.60" x2="121.9" y2="224.60" stroke="#333" stroke-width="1.0"/>
<line x1="120.0" y1="223.00" x2="120.0" y2="226.20" stroke="#1c1c1c" stroke-width="1.1"/>
<line x1="106.1" y1="230.20" x2="121.9" y2="230.20" stroke="#555" stroke-width="0.6"/>
<line x1="120.0" y1="228.60" x2="120.0" y2="231.80" stroke="#1c1c1c" stroke-width="1.1"/>
<line x1="106.1" y1="232.50" x2="121.9" y2="232.50" stroke="#777" stroke-width="0.8"/>
<line x1="120.0" y1="230.90" x2="120.0" y2="234.10" stroke="#1c1c1c" stroke-width="1.1"/>
<line x1="106.1" y1="236.70" x2="121.9" y2="236.70" stroke="#888" stroke-width="0.8"/>
<line x1="120.0" y1="235.10" x2="120.0" y2="238.30" stroke="#1c1c1c" stroke-width="1.1"/>
<line x1="106.1" y1="242.30" x2="121.9" y2="242.30" stroke="#888" stroke-width="0.8"/>
<line x1="120.0" y1="240.70" x2="120.0" y2="243.90" stroke="#1c1c1c" stroke-width="1.1"/>
<line x1="106.1" y1="248.10" x2="121.9" y2="248.10" stroke="#444" stroke-width="1.0"/>
<line x1="120.0" y1="246.50" x2="120.0" y2="249.70" stroke="#1c1c1c" stroke-width="1.1"/>
<line x1="106.1" y1="250.70" x2="121.9" y2="250.70" stroke="#666" stroke-width="0.7"/>
<line x1="120.0" y1="249.10" x2="120.0" y2="252.30" stroke="#1c1c1c" stroke-width="1.1"/>
<line x1="106.1" y1="252.60" x2="121.9" y2="252.60" stroke="#666" stroke-width="0.7"/>
<line x1="120.0" y1="251.00" x2="120.0" y2="254.20" stroke="#1c1c1c" stroke-width="1.1"/>
<line x1="106.1" y1="254.00" x2="121.9" y2="254.00" stroke="#666" stroke-width="0.7"/>
<line x1="120.0" y1="252.40" x2="120.0" y2="255.60" stroke="#1c1c1c" stroke-width="1.1"/>
<line x1="106.1" y1="258.40" x2="121.9" y2="258.40" stroke="#444" stroke-width="0.7"/>
<line x1="120.0" y1="256.80" x2="120.0" y2="260.00" stroke="#1c1c1c" stroke-width="1.1"/>
<line x1="106.1" y1="265.40" x2="121.9" y2="265.40" stroke="#444" stroke-width="0.7"/>
<line x1="120.0" y1="263.80" x2="120.0" y2="267.00" stroke="#1c1c1c" stroke-width="1.1"/>
<line x1="106.1" y1="268.50" x2="121.9" y2="268.50" stroke="#999" stroke-width="0.6"/>
<line x1="120.0" y1="266.90" x2="120.0" y2="270.10" stroke="#1c1c1c" stroke-width="1.1"/>
<line x1="106.1" y1="270.50" x2="121.9" y2="270.50" stroke="#999" stroke-width="0.6"/>
<line x1="120.0" y1="268.90" x2="120.0" y2="272.10" stroke="#1c1c1c" stroke-width="1.1"/>
<line x1="106.1" y1="272.20" x2="121.9" y2="272.20" stroke="#888" stroke-width="0.6"/>
<line x1="120.0" y1="270.60" x2="120.0" y2="273.80" stroke="#1c1c1c" stroke-width="1.1"/>
<line x1="106.1" y1="277.00" x2="121.9" y2="277.00" stroke="#777" stroke-width="0.9"/>
<line x1="120.0" y1="275.40" x2="120.0" y2="278.60" stroke="#1c1c1c" stroke-width="1.1"/>
<line x1="106.1" y1="282.20" x2="121.9" y2="282.20" stroke="#333" stroke-width="0.9"/>
<line x1="120.0" y1="280.60" x2="120.0" y2="283.80" stroke="#1c1c1c" stroke-width="1.1"/>
<line x1="106.1" y1="291.00" x2="121.9" y2="291.00" stroke="#111" stroke-width="1.0"/>
<line x1="120.0" y1="289.40" x2="120.0" y2="292.60" stroke="#1c1c1c" stroke-width="1.1"/>
<line x1="106.1" y1="293.80" x2="121.9" y2="293.80" stroke="#777" stroke-width="0.8"/>
<line x1="120.0" y1="292.20" x2="120.0" y2="295.40" stroke="#1c1c1c" stroke-width="1.1"/>
<line x1="106.1" y1="299.70" x2="121.9" y2="299.70" stroke="#666" stroke-width="1.0"/>
<line x1="120.0" y1="298.10" x2="120.0" y2="301.30" stroke="#1c1c1c" stroke-width="1.1"/>
<line x1="106.1" y1="303.00" x2="121.9" y2="303.00" stroke="#aaa" stroke-width="0.5"/>
<line x1="120.0" y1="301.40" x2="120.0" y2="304.60" stroke="#1c1c1c" stroke-width="1.1"/>
<line x1="106.1" y1="306.50" x2="121.9" y2="306.50" stroke="#aaa" stroke-width="0.5"/>
<line x1="120.0" y1="304.90" x2="120.0" y2="308.10" stroke="#1c1c1c" stroke-width="1.1"/>
<line x1="106.1" y1="309.00" x2="121.9" y2="309.00" stroke="#aaa" stroke-width="0.5"/>
<line x1="120.0" y1="307.40" x2="120.0" y2="310.60" stroke="#1c1c1c" stroke-width="1.1"/>
<line x1="106.1" y1="311.00" x2="121.9" y2="311.00" stroke="#888" stroke-width="0.9"/>
<line x1="120.0" y1="309.40" x2="120.0" y2="312.60" stroke="#1c1c1c" stroke-width="1.1"/>
<line x1="106.1" y1="313.50" x2="121.9" y2="313.50" stroke="#aaa" stroke-width="0.5"/>
<line x1="120.0" y1="311.90" x2="120.0" y2="315.10" stroke="#1c1c1c" stroke-width="1.1"/>
<line x1="106.1" y1="315.60" x2="121.9" y2="315.60" stroke="#999" stroke-width="0.6"/>
<line x1="120.0" y1="314.00" x2="120.0" y2="317.20" stroke="#1c1c1c" stroke-width="1.1"/>
<line x1="106.1" y1="329.30" x2="121.9" y2="329.30" stroke="#555" stroke-width="0.7"/>
<line x1="120.0" y1="327.70" x2="120.0" y2="330.90" stroke="#1c1c1c" stroke-width="1.1"/>
<line x1="106.1" y1="334.60" x2="121.9" y2="334.60" stroke="#555" stroke-width="0.7"/>
<line x1="120.0" y1="333.00" x2="120.0" y2="336.20" stroke="#1c1c1c" stroke-width="1.1"/>
<line x1="106.1" y1="349.70" x2="121.9" y2="349.70" stroke="#555" stroke-width="0.7"/>
<line x1="120.0" y1="348.10" x2="120.0" y2="351.30" stroke="#1c1c1c" stroke-width="1.1"/>
<line x1="106.1" y1="352.80" x2="121.9" y2="352.80" stroke="#555" stroke-width="0.7"/>
<line x1="120.0" y1="351.20" x2="120.0" y2="354.40" stroke="#1c1c1c" stroke-width="1.1"/>
<line x1="106.1" y1="367.20" x2="121.9" y2="367.20" stroke="#555" stroke-width="0.7"/>
<line x1="120.0" y1="365.60" x2="120.0" y2="368.80" stroke="#1c1c1c" stroke-width="1.1"/>
<line x1="106.1" y1="373.60" x2="121.9" y2="373.60" stroke="#555" stroke-width="0.7"/>
<line x1="120.0" y1="372.00" x2="120.0" y2="375.20" stroke="#1c1c1c" stroke-width="1.1"/>
<line x1="106.1" y1="391.40" x2="121.9" y2="391.40" stroke="#555" stroke-width="0.7"/>
<line x1="120.0" y1="389.80" x2="120.0" y2="393.00" stroke="#1c1c1c" stroke-width="1.1"/>
<line x1="106.1" y1="423.50" x2="121.9" y2="423.50" stroke="#555" stroke-width="0.7"/>
<line x1="120.0" y1="421.90" x2="120.0" y2="425.10" stroke="#1c1c1c" stroke-width="1.1"/>
<line x1="106.1" y1="438.00" x2="121.9" y2="438.00" stroke="#555" stroke-width="0.7"/>
<line x1="120.0" y1="436.40" x2="120.0" y2="439.60" stroke="#1c1c1c" stroke-width="1.1"/>
<line x1="106.1" y1="462.60" x2="121.9" y2="462.60" stroke="#555" stroke-width="0.7"/>
<line x1="120.0" y1="461.00" x2="120.0" y2="464.20" stroke="#1c1c1c" stroke-width="1.1"/>
<line x1="106.1" y1="465.20" x2="121.9" y2="465.20" stroke="#555" stroke-width="0.7"/>
<line x1="120.0" y1="463.60" x2="120.0" y2="466.80" stroke="#1c1c1c" stroke-width="1.1"/>
<line x1="106.1" y1="468.00" x2="121.9" y2="468.00" stroke="#555" stroke-width="0.7"/>
<line x1="120.0" y1="466.40" x2="120.0" y2="469.60" stroke="#1c1c1c" stroke-width="1.1"/>
<rect x="118.2" y="206.6" width="4.0" height="12.2" fill="#1a1a1a"/>
<rect x="118.8" y="299.0" width="2.6" height="1.6" fill="#333"/><rect x="118.6" y="309.6" width="3" height="3" fill="#444"/>
<rect x="317.2" y="458.6" width="16.0" height="4.0" fill="#d4d4d4"/>
<rect x="330.6" y="457.8" width="2.6" height="5.6" fill="#555"/>
<line x1="317.2" y1="403.00" x2="333.2" y2="403.00" stroke="#5a5a5a" stroke-width="0.7"/>
<line x1="331.6" y1="401.40" x2="331.6" y2="404.60" stroke="#1c1c1c" stroke-width="1.1"/>
<line x1="317.2" y1="413.20" x2="333.2" y2="413.20" stroke="#5a5a5a" stroke-width="0.7"/>
<line x1="331.6" y1="411.60" x2="331.6" y2="414.80" stroke="#1c1c1c" stroke-width="1.1"/>
<line x1="317.2" y1="416.50" x2="333.2" y2="416.50" stroke="#5a5a5a" stroke-width="0.7"/>
<line x1="331.6" y1="414.90" x2="331.6" y2="418.10" stroke="#1c1c1c" stroke-width="1.1"/>
<line x1="317.2" y1="439.20" x2="333.2" y2="439.20" stroke="#5a5a5a" stroke-width="0.7"/>
<line x1="331.6" y1="437.60" x2="331.6" y2="440.80" stroke="#1c1c1c" stroke-width="1.1"/>
<line x1="317.2" y1="447.60" x2="333.2" y2="447.60" stroke="#5a5a5a" stroke-width="0.7"/>
<line x1="331.6" y1="446.00" x2="331.6" y2="449.20" stroke="#1c1c1c" stroke-width="1.1"/>
<line x1="317.2" y1="451.20" x2="333.2" y2="451.20" stroke="#5a5a5a" stroke-width="0.7"/>
<line x1="331.6" y1="449.60" x2="331.6" y2="452.80" stroke="#1c1c1c" stroke-width="1.1"/>
<line x1="317.2" y1="458.50" x2="333.2" y2="458.50" stroke="#5a5a5a" stroke-width="0.7"/>
<line x1="331.6" y1="456.90" x2="331.6" y2="460.10" stroke="#1c1c1c" stroke-width="1.1"/>
<line x1="317.2" y1="460.50" x2="333.2" y2="460.50" stroke="#5a5a5a" stroke-width="0.7"/>
<line x1="331.6" y1="458.90" x2="331.6" y2="462.10" stroke="#1c1c1c" stroke-width="1.1"/>
<line x1="317.2" y1="462.80" x2="333.2" y2="462.80" stroke="#5a5a5a" stroke-width="0.7"/>
<line x1="331.6" y1="461.20" x2="331.6" y2="464.40" stroke="#1c1c1c" stroke-width="1.1"/>
<line x1="317.2" y1="463.50" x2="333.2" y2="463.50" stroke="#5a5a5a" stroke-width="0.7"/>
<line x1="331.6" y1="461.90" x2="331.6" y2="465.10" stroke="#1c1c1c" stroke-width="1.1"/>
<line x1="317.2" y1="465.40" x2="333.2" y2="465.40" stroke="#5a5a5a" stroke-width="0.7"/>
<line x1="331.6" y1="463.80" x2="331.6" y2="467.00" stroke="#1c1c1c" stroke-width="1.1"/>
<line x1="317.2" y1="482.10" x2="333.2" y2="482.10" stroke="#5a5a5a" stroke-width="0.7"/>
<line x1="331.6" y1="480.50" x2="331.6" y2="483.70" stroke="#1c1c1c" stroke-width="1.1"/>
<line x1="317.2" y1="483.80" x2="333.2" y2="483.80" stroke="#5a5a5a" stroke-width="0.7"/>
<line x1="331.6" y1="482.20" x2="331.6" y2="485.40" stroke="#1c1c1c" stroke-width="1.1"/>
<line x1="317.2" y1="486.80" x2="333.2" y2="486.80" stroke="#5a5a5a" stroke-width="0.7"/>
<line x1="331.6" y1="485.20" x2="331.6" y2="488.40" stroke="#1c1c1c" stroke-width="1.1"/>
<line x1="317.2" y1="495.80" x2="333.2" y2="495.80" stroke="#5a5a5a" stroke-width="0.7"/>
<line x1="331.6" y1="494.20" x2="331.6" y2="497.40" stroke="#1c1c1c" stroke-width="1.1"/>
<line x1="317.2" y1="501.00" x2="333.2" y2="501.00" stroke="#5a5a5a" stroke-width="0.7"/>
<line x1="331.6" y1="499.40" x2="331.6" y2="502.60" stroke="#1c1c1c" stroke-width="1.1"/>
<line x1="317.2" y1="502.80" x2="333.2" y2="502.80" stroke="#5a5a5a" stroke-width="0.7"/>
<line x1="331.6" y1="501.20" x2="331.6" y2="504.40" stroke="#1c1c1c" stroke-width="1.1"/>
<line x1="317.2" y1="504.00" x2="333.2" y2="504.00" stroke="#5a5a5a" stroke-width="0.7"/>
<line x1="331.6" y1="502.40" x2="331.6" y2="505.60" stroke="#1c1c1c" stroke-width="1.1"/>
<polyline fill="none" stroke="#333" stroke-width="0.5" stroke-linejoin="round" points="136.4,167.0 145.6,168.6 151.7,169.0 136.4,170.6 152.5,172.6 137.0,174.0 148.6,177.8 151.7,178.4 146.0,179.0 136.4,179.6 149.0,182.1 151.7,182.6 154.5,183.2 136.4,184.5 137.0,186.7 152.5,189.5 141.6,191.1 147.0,194.5 153.1,195.0 156.1,195.6 149.6,197.4 142.0,198.5 136.4,199.5 136.2,207.4 154.2,208.6 158.6,209.3 154.2,210.9 153.9,212.3 152.0,214.2 153.3,214.9 154.2,216.1 152.0,217.6 154.4,218.4 155.5,219.3 152.5,220.2 148.6,224.0 143.0,224.6 136.2,225.7 153.1,233.1 153.1,236.1 151.7,242.1 152.5,247.5 151.7,249.5 136.4,250.7 136.4,252.7 147.0,253.5 151.7,254.1 154.1,258.1 151.7,264.5 136.4,268.1 149.0,270.6 158.1,272.6 145.0,276.0 149.0,277.6 160.1,281.7 153.7,289.5 146.4,290.5 151.0,291.1 159.1,291.7 137.0,294.1 160.1,299.7 157.1,301.1 147.6,302.5 153.7,306.5 149.0,308.1 148.0,310.1 147.0,312.1 148.4,313.7 161.1,315.7 151.0,329.1 152.0,334.4 151.0,349.7 155.0,353.1 157.7,367.6 153.0,373.7 153.0,391.4 152.5,423.5 154.1,438.0 155.1,462.5 167.7,465.1 160.5,468.1"/>
<circle cx="136.4" cy="167.0" r="1.2" fill="#a50f1e"/>
<circle cx="145.6" cy="168.6" r="1.2" fill="#a50f1e"/>
<circle cx="151.7" cy="169.0" r="1.2" fill="#a50f1e"/>
<circle cx="136.4" cy="170.6" r="1.2" fill="#a50f1e"/>
<circle cx="152.5" cy="172.6" r="1.2" fill="#a50f1e"/>
<circle cx="137.0" cy="174.0" r="1.2" fill="#a50f1e"/>
<circle cx="148.6" cy="177.8" r="1.2" fill="#a50f1e"/>
<circle cx="151.7" cy="178.4" r="1.2" fill="#a50f1e"/>
<circle cx="146.0" cy="179.0" r="1.2" fill="#a50f1e"/>
<circle cx="136.4" cy="179.6" r="1.2" fill="#a50f1e"/>
<circle cx="149.0" cy="182.1" r="1.2" fill="#a50f1e"/>
<circle cx="151.7" cy="182.6" r="1.2" fill="#a50f1e"/>
<circle cx="154.5" cy="183.2" r="1.2" fill="#a50f1e"/>
<circle cx="136.4" cy="184.5" r="1.2" fill="#a50f1e"/>
<circle cx="137.0" cy="186.7" r="1.2" fill="#a50f1e"/>
<circle cx="152.5" cy="189.5" r="1.2" fill="#a50f1e"/>
<circle cx="141.6" cy="191.1" r="1.2" fill="#a50f1e"/>
<circle cx="147.0" cy="194.5" r="1.2" fill="#a50f1e"/>
<circle cx="153.1" cy="195.0" r="1.2" fill="#a50f1e"/>
<circle cx="156.1" cy="195.6" r="1.2" fill="#a50f1e"/>
<circle cx="149.6" cy="197.4" r="1.2" fill="#a50f1e"/>
<circle cx="142.0" cy="198.5" r="1.2" fill="#a50f1e"/>
<circle cx="136.4" cy="199.5" r="1.2" fill="#a50f1e"/>
<circle cx="136.2" cy="207.4" r="1.2" fill="#a50f1e"/>
<circle cx="154.2" cy="208.6" r="1.2" fill="#a50f1e"/>
<circle cx="158.6" cy="209.3" r="1.2" fill="#a50f1e"/>
<circle cx="154.2" cy="210.9" r="1.2" fill="#a50f1e"/>
<circle cx="153.9" cy="212.3" r="1.2" fill="#a50f1e"/>
<circle cx="152.0" cy="214.2" r="1.2" fill="#a50f1e"/>
<circle cx="153.3" cy="214.9" r="1.2" fill="#a50f1e"/>
<circle cx="154.2" cy="216.1" r="1.2" fill="#a50f1e"/>
<circle cx="152.0" cy="217.6" r="1.2" fill="#a50f1e"/>
<circle cx="154.4" cy="218.4" r="1.2" fill="#a50f1e"/>
<circle cx="155.5" cy="219.3" r="1.2" fill="#a50f1e"/>
<circle cx="152.5" cy="220.2" r="1.2" fill="#a50f1e"/>
<circle cx="148.6" cy="224.0" r="1.2" fill="#a50f1e"/>
<circle cx="143.0" cy="224.6" r="1.2" fill="#a50f1e"/>
<circle cx="136.2" cy="225.7" r="1.2" fill="#a50f1e"/>
<circle cx="153.1" cy="233.1" r="1.2" fill="#a50f1e"/>
<circle cx="153.1" cy="236.1" r="1.2" fill="#a50f1e"/>
<circle cx="151.7" cy="242.1" r="1.2" fill="#a50f1e"/>
<circle cx="152.5" cy="247.5" r="1.2" fill="#a50f1e"/>
<circle cx="151.7" cy="249.5" r="1.2" fill="#a50f1e"/>
<circle cx="136.4" cy="250.7" r="1.2" fill="#a50f1e"/>
<circle cx="136.4" cy="252.7" r="1.2" fill="#a50f1e"/>
<circle cx="147.0" cy="253.5" r="1.2" fill="#a50f1e"/>
<circle cx="151.7" cy="254.1" r="1.2" fill="#a50f1e"/>
<circle cx="154.1" cy="258.1" r="1.2" fill="#a50f1e"/>
<circle cx="151.7" cy="264.5" r="1.2" fill="#a50f1e"/>
<circle cx="136.4" cy="268.1" r="1.2" fill="#a50f1e"/>
<circle cx="149.0" cy="270.6" r="1.2" fill="#a50f1e"/>
<circle cx="158.1" cy="272.6" r="1.2" fill="#a50f1e"/>
<circle cx="145.0" cy="276.0" r="1.2" fill="#a50f1e"/>
<circle cx="149.0" cy="277.6" r="1.2" fill="#a50f1e"/>
<circle cx="160.1" cy="281.7" r="1.2" fill="#a50f1e"/>
<circle cx="153.7" cy="289.5" r="1.2" fill="#a50f1e"/>
<circle cx="146.4" cy="290.5" r="1.2" fill="#a50f1e"/>
<circle cx="151.0" cy="291.1" r="1.2" fill="#a50f1e"/>
<circle cx="159.1" cy="291.7" r="1.2" fill="#a50f1e"/>
<circle cx="137.0" cy="294.1" r="1.2" fill="#a50f1e"/>
<circle cx="160.1" cy="299.7" r="1.2" fill="#a50f1e"/>
<circle cx="157.1" cy="301.1" r="1.2" fill="#a50f1e"/>
<circle cx="147.6" cy="302.5" r="1.2" fill="#a50f1e"/>
<circle cx="153.7" cy="306.5" r="1.2" fill="#a50f1e"/>
<circle cx="149.0" cy="308.1" r="1.2" fill="#a50f1e"/>
<circle cx="148.0" cy="310.1" r="1.2" fill="#a50f1e"/>
<circle cx="147.0" cy="312.1" r="1.2" fill="#a50f1e"/>
<circle cx="148.4" cy="313.7" r="1.2" fill="#a50f1e"/>
<circle cx="161.1" cy="315.7" r="1.2" fill="#a50f1e"/>
<circle cx="151.0" cy="329.1" r="1.2" fill="#a50f1e"/>
<circle cx="152.0" cy="334.4" r="1.2" fill="#a50f1e"/>
<circle cx="151.0" cy="349.7" r="1.2" fill="#a50f1e"/>
<circle cx="155.0" cy="353.1" r="1.2" fill="#a50f1e"/>
<circle cx="157.7" cy="367.6" r="1.2" fill="#a50f1e"/>
<circle cx="153.0" cy="373.7" r="1.2" fill="#a50f1e"/>
<circle cx="153.0" cy="391.4" r="1.2" fill="#a50f1e"/>
<circle cx="152.5" cy="423.5" r="1.2" fill="#a50f1e"/>
<circle cx="154.1" cy="438.0" r="1.2" fill="#a50f1e"/>
<circle cx="155.1" cy="462.5" r="1.2" fill="#a50f1e"/>
<circle cx="167.7" cy="465.1" r="1.2" fill="#a50f1e"/>
<circle cx="160.5" cy="468.1" r="1.2" fill="#a50f1e"/>
<polyline fill="none" stroke="#333" stroke-width="0.5" stroke-linejoin="round" points="193.8,167.0 192.3,168.6 193.8,169.9 190.2,170.7 191.4,172.9 207.7,173.6 201.1,177.7 202.2,178.4 204.5,178.4 189.1,179.3 190.9,179.6 204.5,180.4 204.1,182.3 208.4,183.4 189.8,184.4 183.9,186.6 180.5,189.2 182.3,191.1 188.2,194.1 190.6,194.5 200.6,195.2 188.2,197.0 186.6,198.4 200.5,207.2 208.6,208.8 208.6,211.6 199.3,212.6 196.0,213.1 193.0,214.0 193.9,214.9 197.4,215.1 195.1,216.5 197.9,216.8 195.8,217.5 208.6,219.6 187.2,224.0 190.5,224.9 188.6,225.4 188.1,230.7 190.1,233.1 190.1,236.1 200.2,242.1 208.6,248.1 200.6,250.7 191.5,252.1 188.1,253.5 209.2,258.1 188.1,264.7 194.2,268.1 201.2,270.1 209.2,271.1 194.2,276.0 201.2,277.6 201.2,281.7 193.8,283.1 203.2,289.5 194.2,290.5 200.6,291.1 198.2,291.5 207.2,294.1 185.1,299.7 192.1,301.1 199.2,304.5 191.7,306.5 196.2,308.1 194.2,309.5 191.1,310.5 208.6,312.5 208.6,315.1 209.2,329.1 209.2,334.4 207.2,349.7 209.2,353.1 193.8,367.5 209.2,373.7 209.2,391.4 209.2,423.5 196.2,438.0 195.8,462.5 200.6,465.1 195.2,468.1"/>
<circle cx="193.8" cy="167.0" r="1.2" fill="#12608e"/>
<circle cx="192.3" cy="168.6" r="1.2" fill="#12608e"/>
<circle cx="193.8" cy="169.9" r="1.2" fill="#12608e"/>
<circle cx="190.2" cy="170.7" r="1.2" fill="#12608e"/>
<circle cx="191.4" cy="172.9" r="1.2" fill="#12608e"/>
<circle cx="207.7" cy="173.6" r="1.2" fill="#12608e"/>
<circle cx="201.1" cy="177.7" r="1.2" fill="#12608e"/>
<circle cx="202.2" cy="178.4" r="1.2" fill="#12608e"/>
<circle cx="204.5" cy="178.4" r="1.2" fill="#12608e"/>
<circle cx="189.1" cy="179.3" r="1.2" fill="#12608e"/>
<circle cx="190.9" cy="179.6" r="1.2" fill="#12608e"/>
<circle cx="204.5" cy="180.4" r="1.2" fill="#12608e"/>
<circle cx="204.1" cy="182.3" r="1.2" fill="#12608e"/>
<circle cx="208.4" cy="183.4" r="1.2" fill="#12608e"/>
<circle cx="189.8" cy="184.4" r="1.2" fill="#12608e"/>
<circle cx="183.9" cy="186.6" r="1.2" fill="#12608e"/>
<circle cx="180.5" cy="189.2" r="1.2" fill="#12608e"/>
<circle cx="182.3" cy="191.1" r="1.2" fill="#12608e"/>
<circle cx="188.2" cy="194.1" r="1.2" fill="#12608e"/>
<circle cx="190.6" cy="194.5" r="1.2" fill="#12608e"/>
<circle cx="200.6" cy="195.2" r="1.2" fill="#12608e"/>
<circle cx="188.2" cy="197.0" r="1.2" fill="#12608e"/>
<circle cx="186.6" cy="198.4" r="1.2" fill="#12608e"/>
<circle cx="200.5" cy="207.2" r="1.2" fill="#12608e"/>
<circle cx="208.6" cy="208.8" r="1.2" fill="#12608e"/>
<circle cx="208.6" cy="211.6" r="1.2" fill="#12608e"/>
<circle cx="199.3" cy="212.6" r="1.2" fill="#12608e"/>
<circle cx="196.0" cy="213.1" r="1.2" fill="#12608e"/>
<circle cx="193.0" cy="214.0" r="1.2" fill="#12608e"/>
<circle cx="193.9" cy="214.9" r="1.2" fill="#12608e"/>
<circle cx="197.4" cy="215.1" r="1.2" fill="#12608e"/>
<circle cx="195.1" cy="216.5" r="1.2" fill="#12608e"/>
<circle cx="197.9" cy="216.8" r="1.2" fill="#12608e"/>
<circle cx="195.8" cy="217.5" r="1.2" fill="#12608e"/>
<circle cx="208.6" cy="219.6" r="1.2" fill="#12608e"/>
<circle cx="187.2" cy="224.0" r="1.2" fill="#12608e"/>
<circle cx="190.5" cy="224.9" r="1.2" fill="#12608e"/>
<circle cx="188.6" cy="225.4" r="1.2" fill="#12608e"/>
<circle cx="188.1" cy="230.7" r="1.2" fill="#12608e"/>
<circle cx="190.1" cy="233.1" r="1.2" fill="#12608e"/>
<circle cx="190.1" cy="236.1" r="1.2" fill="#12608e"/>
<circle cx="200.2" cy="242.1" r="1.2" fill="#12608e"/>
<circle cx="208.6" cy="248.1" r="1.2" fill="#12608e"/>
<circle cx="200.6" cy="250.7" r="1.2" fill="#12608e"/>
<circle cx="191.5" cy="252.1" r="1.2" fill="#12608e"/>
<circle cx="188.1" cy="253.5" r="1.2" fill="#12608e"/>
<circle cx="209.2" cy="258.1" r="1.2" fill="#12608e"/>
<circle cx="188.1" cy="264.7" r="1.2" fill="#12608e"/>
<circle cx="194.2" cy="268.1" r="1.2" fill="#12608e"/>
<circle cx="201.2" cy="270.1" r="1.2" fill="#12608e"/>
<circle cx="209.2" cy="271.1" r="1.2" fill="#12608e"/>
<circle cx="194.2" cy="276.0" r="1.2" fill="#12608e"/>
<circle cx="201.2" cy="277.6" r="1.2" fill="#12608e"/>
<circle cx="201.2" cy="281.7" r="1.2" fill="#12608e"/>
<circle cx="193.8" cy="283.1" r="1.2" fill="#12608e"/>
<circle cx="203.2" cy="289.5" r="1.2" fill="#12608e"/>
<circle cx="194.2" cy="290.5" r="1.2" fill="#12608e"/>
<circle cx="200.6" cy="291.1" r="1.2" fill="#12608e"/>
<circle cx="198.2" cy="291.5" r="1.2" fill="#12608e"/>
<circle cx="207.2" cy="294.1" r="1.2" fill="#12608e"/>
<circle cx="185.1" cy="299.7" r="1.2" fill="#12608e"/>
<circle cx="192.1" cy="301.1" r="1.2" fill="#12608e"/>
<circle cx="199.2" cy="304.5" r="1.2" fill="#12608e"/>
<circle cx="191.7" cy="306.5" r="1.2" fill="#12608e"/>
<circle cx="196.2" cy="308.1" r="1.2" fill="#12608e"/>
<circle cx="194.2" cy="309.5" r="1.2" fill="#12608e"/>
<circle cx="191.1" cy="310.5" r="1.2" fill="#12608e"/>
<circle cx="208.6" cy="312.5" r="1.2" fill="#12608e"/>
<circle cx="208.6" cy="315.1" r="1.2" fill="#12608e"/>
<circle cx="209.2" cy="329.1" r="1.2" fill="#12608e"/>
<circle cx="209.2" cy="334.4" r="1.2" fill="#12608e"/>
<circle cx="207.2" cy="349.7" r="1.2" fill="#12608e"/>
<circle cx="209.2" cy="353.1" r="1.2" fill="#12608e"/>
<circle cx="193.8" cy="367.5" r="1.2" fill="#12608e"/>
<circle cx="209.2" cy="373.7" r="1.2" fill="#12608e"/>
<circle cx="209.2" cy="391.4" r="1.2" fill="#12608e"/>
<circle cx="209.2" cy="423.5" r="1.2" fill="#12608e"/>
<circle cx="196.2" cy="438.0" r="1.2" fill="#12608e"/>
<circle cx="195.8" cy="462.5" r="1.2" fill="#12608e"/>
<circle cx="200.6" cy="465.1" r="1.2" fill="#12608e"/>
<circle cx="195.2" cy="468.1" r="1.2" fill="#12608e"/>
<polyline fill="none" stroke="#333" stroke-width="0.5" stroke-linejoin="round" points="358.7,402.9 374.9,413.3 376.9,416.4 372.2,439.0 363.9,447.5 361.4,451.0 361.8,458.3 363.9,460.4 366.6,462.9 378.0,463.5 376.9,465.6 364.5,482.2 364.5,483.6 376.3,483.6 363.2,495.6 359.1,500.8 360.7,502.5 358.3,504.2 361.4,504.2"/>
<circle cx="358.7" cy="402.9" r="1.2" fill="#a50f1e"/>
<circle cx="374.9" cy="413.3" r="1.2" fill="#a50f1e"/>
<circle cx="376.9" cy="416.4" r="1.2" fill="#a50f1e"/>
<circle cx="372.2" cy="439.0" r="1.2" fill="#a50f1e"/>
<circle cx="363.9" cy="447.5" r="1.2" fill="#a50f1e"/>
<circle cx="361.4" cy="451.0" r="1.2" fill="#a50f1e"/>
<circle cx="361.8" cy="458.3" r="1.2" fill="#a50f1e"/>
<circle cx="363.9" cy="460.4" r="1.2" fill="#a50f1e"/>
<circle cx="366.6" cy="462.9" r="1.2" fill="#a50f1e"/>
<circle cx="378.0" cy="463.5" r="1.2" fill="#a50f1e"/>
<circle cx="376.9" cy="465.6" r="1.2" fill="#a50f1e"/>
<circle cx="364.5" cy="482.2" r="1.2" fill="#a50f1e"/>
<circle cx="364.5" cy="483.6" r="1.2" fill="#a50f1e"/>
<circle cx="376.3" cy="483.6" r="1.2" fill="#a50f1e"/>
<circle cx="363.2" cy="495.6" r="1.2" fill="#a50f1e"/>
<circle cx="359.1" cy="500.8" r="1.2" fill="#a50f1e"/>
<circle cx="360.7" cy="502.5" r="1.2" fill="#a50f1e"/>
<circle cx="358.3" cy="504.2" r="1.2" fill="#a50f1e"/>
<circle cx="361.4" cy="504.2" r="1.2" fill="#a50f1e"/>
<polyline fill="none" stroke="#333" stroke-width="0.5" stroke-linejoin="round" points="412.6,402.9 409.1,413.3 414.3,416.4 413.7,439.0 419.9,447.5 414.3,451.0 416.3,458.3 419.9,460.4 411.6,462.9 416.8,462.9 413.7,465.0 419.9,482.2 416.8,484.2 415.1,487.3 396.4,495.6 406.4,500.8 406.0,502.9 406.0,504.2"/>
<circle cx="412.6" cy="402.9" r="1.2" fill="#12608e"/>
<circle cx="409.1" cy="413.3" r="1.2" fill="#12608e"/>
<circle cx="414.3" cy="416.4" r="1.2" fill="#12608e"/>
<circle cx="413.7" cy="439.0" r="1.2" fill="#12608e"/>
<circle cx="419.9" cy="447.5" r="1.2" fill="#12608e"/>
<circle cx="414.3" cy="451.0" r="1.2" fill="#12608e"/>
<circle cx="416.3" cy="458.3" r="1.2" fill="#12608e"/>
<circle cx="419.9" cy="460.4" r="1.2" fill="#12608e"/>
<circle cx="411.6" cy="462.9" r="1.2" fill="#12608e"/>
<circle cx="416.8" cy="462.9" r="1.2" fill="#12608e"/>
<circle cx="413.7" cy="465.0" r="1.2" fill="#12608e"/>
<circle cx="419.9" cy="482.2" r="1.2" fill="#12608e"/>
<circle cx="416.8" cy="484.2" r="1.2" fill="#12608e"/>
<circle cx="415.1" cy="487.3" r="1.2" fill="#12608e"/>
<circle cx="396.4" cy="495.6" r="1.2" fill="#12608e"/>
<circle cx="406.4" cy="500.8" r="1.2" fill="#12608e"/>
<circle cx="406.0" cy="502.9" r="1.2" fill="#12608e"/>
<circle cx="406.0" cy="504.2" r="1.2" fill="#12608e"/>
<rect x="3.6" y="505.4" width="421.6" height="40" fill="#fff"/>
<text x="13.5" y="519.0" font-size="9.3" text-anchor="start" textLength="44.0" lengthAdjust="spacingAndGlyphs">Lithologies</text>
<rect x="90.9" y="514.1" width="18.6" height="4.3" fill="#666" stroke="#555" stroke-width="0.4"/>
<text x="112.1" y="518.7" font-size="8.3" text-anchor="start" textLength="36.5" lengthAdjust="spacingAndGlyphs">mudstone</text>
<rect x="154.6" y="513.7" width="19.1" height="5.0" fill="#ffec00" stroke="#665" stroke-width="0.4"/>
<text x="176.4" y="518.7" font-size="8.3" text-anchor="start" textLength="38.5" lengthAdjust="spacingAndGlyphs">sandstone</text>
<rect x="220.8" y="513.7" width="18.9" height="5.0" fill="#000" stroke="#000" stroke-width="0.4"/>
<text x="242.0" y="518.7" font-size="8.3" text-anchor="start" textLength="15.2" lengthAdjust="spacingAndGlyphs">coal</text>
<rect x="263.1" y="513.0" width="18.2" height="5.6" fill="#fbb030" stroke="#965" stroke-width="0.4"/>
<text x="284.0" y="518.7" font-size="8.3" text-anchor="start" textLength="50.6" lengthAdjust="spacingAndGlyphs">conglomerate</text>
<rect x="341.2" y="513.0" width="18.2" height="5.6" fill="#14b6e8" stroke="#357" stroke-width="0.4"/>
<text x="362.0" y="518.7" font-size="8.3" text-anchor="start" textLength="36.0" lengthAdjust="spacingAndGlyphs">limestone</text>
<rect x="14.2" y="529.5" width="18.8" height="5.4" fill="#a4a898" stroke="#666" stroke-width="0.4"/>
<text x="35.5" y="534.9" font-size="7.7" text-anchor="start" textLength="102.8" lengthAdjust="spacingAndGlyphs">Poorly consolidated mudstone</text>
<rect x="144.8" y="529.5" width="18.3" height="5.3" fill="#ffd000" stroke="#865" stroke-width="0.4"/>
<text x="165.7" y="534.9" font-size="7.7" text-anchor="start" textLength="105.0" lengthAdjust="spacingAndGlyphs">Poorly consolidated sandstone</text>
<rect x="277.2" y="529.5" width="18.3" height="5.3" fill="#e07b00" stroke="#853" stroke-width="0.4"/>
<text x="297.8" y="534.9" font-size="7.7" text-anchor="start" textLength="116.0" lengthAdjust="spacingAndGlyphs">Poorly consolidated conglomerate</text>
</svg></body></html>
